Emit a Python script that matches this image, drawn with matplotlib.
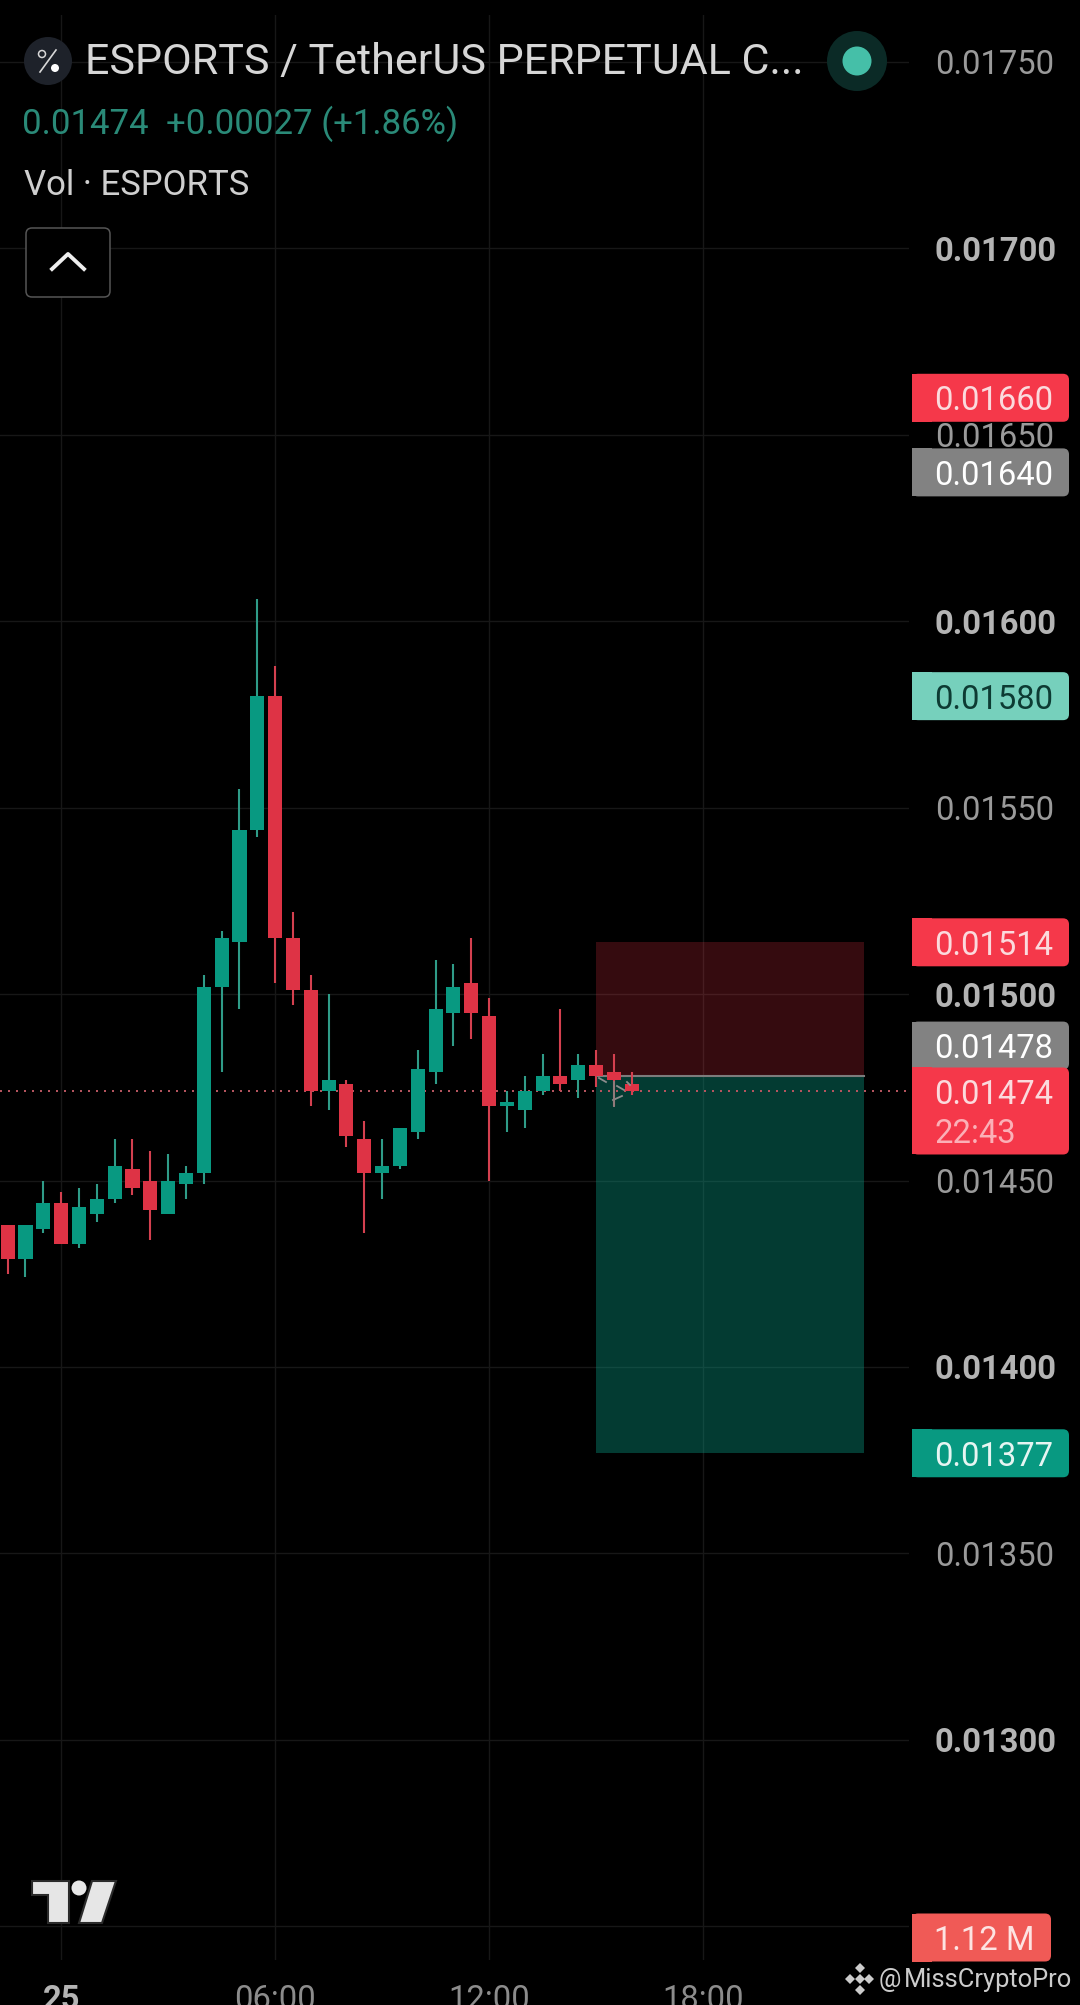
"""
ESPORTS / USDT 30m candles, dark phone screenshot style
"""

import matplotlib
matplotlib.use("Agg")
import matplotlib.pyplot as plt
from matplotlib.patches import Rectangle, FancyBboxPatch, Circle, Polygon

plt.rcParams['font.family'] = ['Roboto', 'DejaVu Sans']

W, H = 1080, 2005
DPI = 100

opens = [0.01438, 0.01429, 0.01437, 0.01444, 0.01433, 0.01441, 0.01445, 0.01453, 0.01450,
         0.01441, 0.01449, 0.01452, 0.01502, 0.01514, 0.01544, 0.01580, 0.01515, 0.01501,
         0.01474, 0.01476, 0.01461, 0.01452, 0.01454, 0.01463, 0.01479, 0.01495, 0.01503,
         0.01494, 0.01470, 0.01469, 0.01474, 0.01478, 0.01477, 0.01481, 0.01479, 0.01476]
highs = [0.01438, 0.01438, 0.01450, 0.01447, 0.01448, 0.01449, 0.01461, 0.01461, 0.01458,
         0.01457, 0.01454, 0.01505, 0.01517, 0.01555, 0.01606, 0.01588, 0.01522, 0.01505,
         0.01500, 0.01477, 0.01466, 0.01461, 0.01464, 0.01485, 0.01509, 0.01508, 0.01515,
         0.01499, 0.01474, 0.01478, 0.01484, 0.01496, 0.01484, 0.01485, 0.01484, 0.01479]
lows = [0.01425, 0.01424, 0.01436, 0.01433, 0.01432, 0.01439, 0.01444, 0.01446, 0.01434,
        0.01441, 0.01445, 0.01449, 0.01479, 0.01496, 0.01542, 0.01503, 0.01497, 0.01470,
        0.01469, 0.01459, 0.01436, 0.01445, 0.01453, 0.01461, 0.01476, 0.01486, 0.01488,
        0.01450, 0.01463, 0.01464, 0.01473, 0.01474, 0.01472, 0.01475, 0.01470, 0.01473]
closes = [0.01429, 0.01438, 0.01444, 0.01433, 0.01443, 0.01445, 0.01454, 0.01448, 0.01442,
          0.01450, 0.01452, 0.01502, 0.01515, 0.01544, 0.01580, 0.01515, 0.01501, 0.01474,
          0.01477, 0.01462, 0.01452, 0.01454, 0.01464, 0.01480, 0.01496, 0.01502, 0.01495,
          0.01470, 0.01471, 0.01474, 0.01478, 0.01476, 0.01481, 0.01478, 0.01477, 0.01474]

price_ticks = [0.01750, 0.01700, 0.01650, 0.01600, 0.01550, 0.01500, 0.01450, 0.01400,
               0.01350, 0.01300, 0.01250]
price_labels = ['0.01750', '0.01700', '0.01650', '0.01600', '0.01550', '0.01500', '0.01450',
                '0.01400', '0.01350', '0.01300', '']
bold_prices = ['0.01700', '0.01600', '0.01500', '0.01400', '0.01300']

time_ticks = [3, 15, 27, 39]
time_labels = ['25', '06:00', '12:00', '18:00']

stop_price = 0.01514
entry_price = 0.01478
target_price = 0.01377
last_price = 0.01474
box_start = 33
box_end = 48

GREEN = '#089981'
RED = '#de3345'
BADGE_RED = '#f5384a'

fig = plt.figure(figsize=(W / DPI, H / DPI), dpi=DPI, facecolor='black')

# main chart: x 0..909 px, y 15..1960 px
ax = fig.add_axes([0, (H - 1960) / H, 909 / W, (1960 - 15) / H], facecolor='black')
ax.set_xlim(-0.43, 50.55)
ax.set_ylim(0.012410, 0.017625)

for s in ax.spines.values():
    s.set_visible(False)
ax.yaxis.tick_right()
ax.set_yticks(price_ticks, price_labels)
ax.set_xticks(time_ticks, time_labels)
ax.tick_params(axis='y', length=0, pad=26 * 72 / DPI, labelsize=23.6, labelcolor='#9a9a9a')
ax.tick_params(axis='x', length=0, pad=24 * 72 / DPI, labelsize=23.6, labelcolor='#8c8c8c')
ax.grid(True, color='#171717', linewidth=1.0, zorder=0)
ax.set_axisbelow(True)
for lab in ax.get_yticklabels():
    if lab.get_text() in bold_prices:
        lab.set_fontweight('bold')
        lab.set_color('#b4b4b4')
ax.get_xticklabels()[0].set_fontweight('bold')
ax.get_xticklabels()[0].set_color('#b4b4b4')

# risk / reward boxes
ax.add_patch(Rectangle((box_start, entry_price), box_end - box_start, stop_price - entry_price,
                       facecolor='#f23645', alpha=0.22, edgecolor='none', zorder=1))
ax.add_patch(Rectangle((box_start, target_price), box_end - box_start, entry_price - target_price,
                       facecolor=GREEN, alpha=0.39, edgecolor='none', zorder=1))
ax.plot([box_start, box_end], [entry_price, entry_price], color='#7c7c7c', lw=1.5, zorder=2)

ax.axhline(last_price, color='#b4545e', lw=1.44, ls=(0, (1, 3)), zorder=2)

xs = list(range(len(opens)))
colors = [GREEN if c >= o else RED for o, c in zip(opens, closes)]
wick_colors = ['#2f9c88' if c >= o else '#d4404f' for o, c in zip(opens, closes)]
ax.vlines(xs, lows, highs, colors=wick_colors, linewidth=1.5, zorder=3)
bottoms = [min(o, c) for o, c in zip(opens, closes)]
heights = [abs(c - o) for o, c in zip(opens, closes)]
ax.bar(xs, heights, width=0.79, bottom=bottoms, color=colors, linewidth=0, zorder=4)

# everything below sits on a pixel overlay
ov = fig.add_axes([0, 0, 1, 1], facecolor='none')
ov.set_xlim(0, W)
ov.set_ylim(H, 0)
ov.axis('off')


def price_y(p):
    return H - ax.transData.transform((0, p))[1]


def badge(yc, text, bg, fg, height=48, x1=1069, top=None):
    y0 = yc - 23.5 if top is None else top
    ov.add_patch(FancyBboxPatch((912, y0), x1 - 912, height, facecolor=bg, edgecolor='none',
                                boxstyle='round,pad=0,rounding_size=6'))
    ov.add_patch(Rectangle((912, y0), 20, height, facecolor=bg, edgecolor='none'))
    ov.text(934, yc + 13, text, color=fg, fontsize=23.6, va='baseline', ha='left')


# execution marks near the last candles
for (x0, y0, x1, y1) in [(599, 1078, 606, 1082), (617, 1086, 624, 1090), (613, 1100, 622, 1096),
                         (627, 1082, 630, 1085)]:
    ov.plot([x0, x1], [y0, y1], color='#8c8c8c', lw=1.3)
ov.plot([613.5, 613.5], [1082, 1106], color='#8f7c7c', lw=1.4)

badge(price_y(0.01660), '0.01660', BADGE_RED, '#fbdadd')
badge(price_y(0.01640), '0.01640', '#828282', '#ffffff')
badge(price_y(0.01580), '0.01580', '#76d0bc', '#0d3b33')
badge(price_y(stop_price), '0.01514', BADGE_RED, '#fbdadd')
badge(price_y(entry_price) - 31, '0.01478', '#828282', '#ffffff')
badge(price_y(last_price), '0.01474', BADGE_RED, '#fbdadd', height=87)
ov.text(934, 1143, '22:43', color='#fbb0b7', fontsize=23.6, va='baseline', ha='left')
badge(price_y(target_price), '0.01377', GREEN, '#e6f5f2')
badge(1937, '1.12 M', '#f05a56', '#fde3e2', x1=1051)

# header
ov.add_patch(Circle((48, 61), 24, facecolor='#1e222a', edgecolor='none'))
ov.plot([40, 56], [72, 50], color='#d8d8d8', lw=1.2)
ov.add_patch(Circle((42, 54), 3.5, facecolor='none', edgecolor='#d8d8d8', lw=1.1))
ov.add_patch(Circle((55, 68), 4, facecolor='#ffffff', edgecolor='none'))
ov.text(85, 74, 'ESPORTS / TetherUS PERPETUAL C...', color='#d6d6d6', fontsize=31,
        va='baseline', ha='left')
ov.add_patch(Circle((857, 61), 30, facecolor='#0b2a26', edgecolor='none'))
ov.add_patch(Circle((857, 61), 14.5, facecolor='#45bfa8', edgecolor='none'))

ov.text(22, 134, '0.01474', color='#2a8a78', fontsize=25, va='baseline', ha='left')
ov.text(166, 134, '+0.00027 (+1.86%)', color='#2a8a78', fontsize=25, va='baseline', ha='left')
ov.text(24, 195, 'Vol · ESPORTS', color='#cfcfcf', fontsize=25, va='baseline', ha='left')

ov.add_patch(FancyBboxPatch((26, 228), 84, 69, facecolor='black', edgecolor='#555555', lw=1.1,
                            boxstyle='round,pad=0,rounding_size=6'))
ov.plot([52, 68, 84], [269, 254, 269], color='#eeeeee', lw=2.8)

# logo
logo = '#e6e6e6'
for pts in ([(32, 1881), (69, 1881), (69, 1923), (48, 1923), (48, 1895), (32, 1895)],
            [(92, 1881), (116, 1881), (102, 1923), (79, 1923)]):
    ov.add_patch(Polygon(pts, closed=True, facecolor=logo, edgecolor='#2b2b2b', lw=1.5))
ov.add_patch(Circle((79, 1888), 7.5, facecolor=logo, edgecolor='none'))

# watermark
ov.plot([859.5, 859.5, 850, 869, 859.5], [1979, 1968, 1979, 1979, 1990], ls='none', marker='D',
        ms=5.5, color='#cccccc', mew=0)
ov.text(879, 1987, '@', color='#cccccc', fontsize=18, va='baseline', ha='left')
ov.text(904, 1987, 'MissCryptoPro', color='#cccccc', fontsize=18.4, va='baseline', ha='left')

fig.savefig('out.png', dpi=DPI, facecolor='black')
